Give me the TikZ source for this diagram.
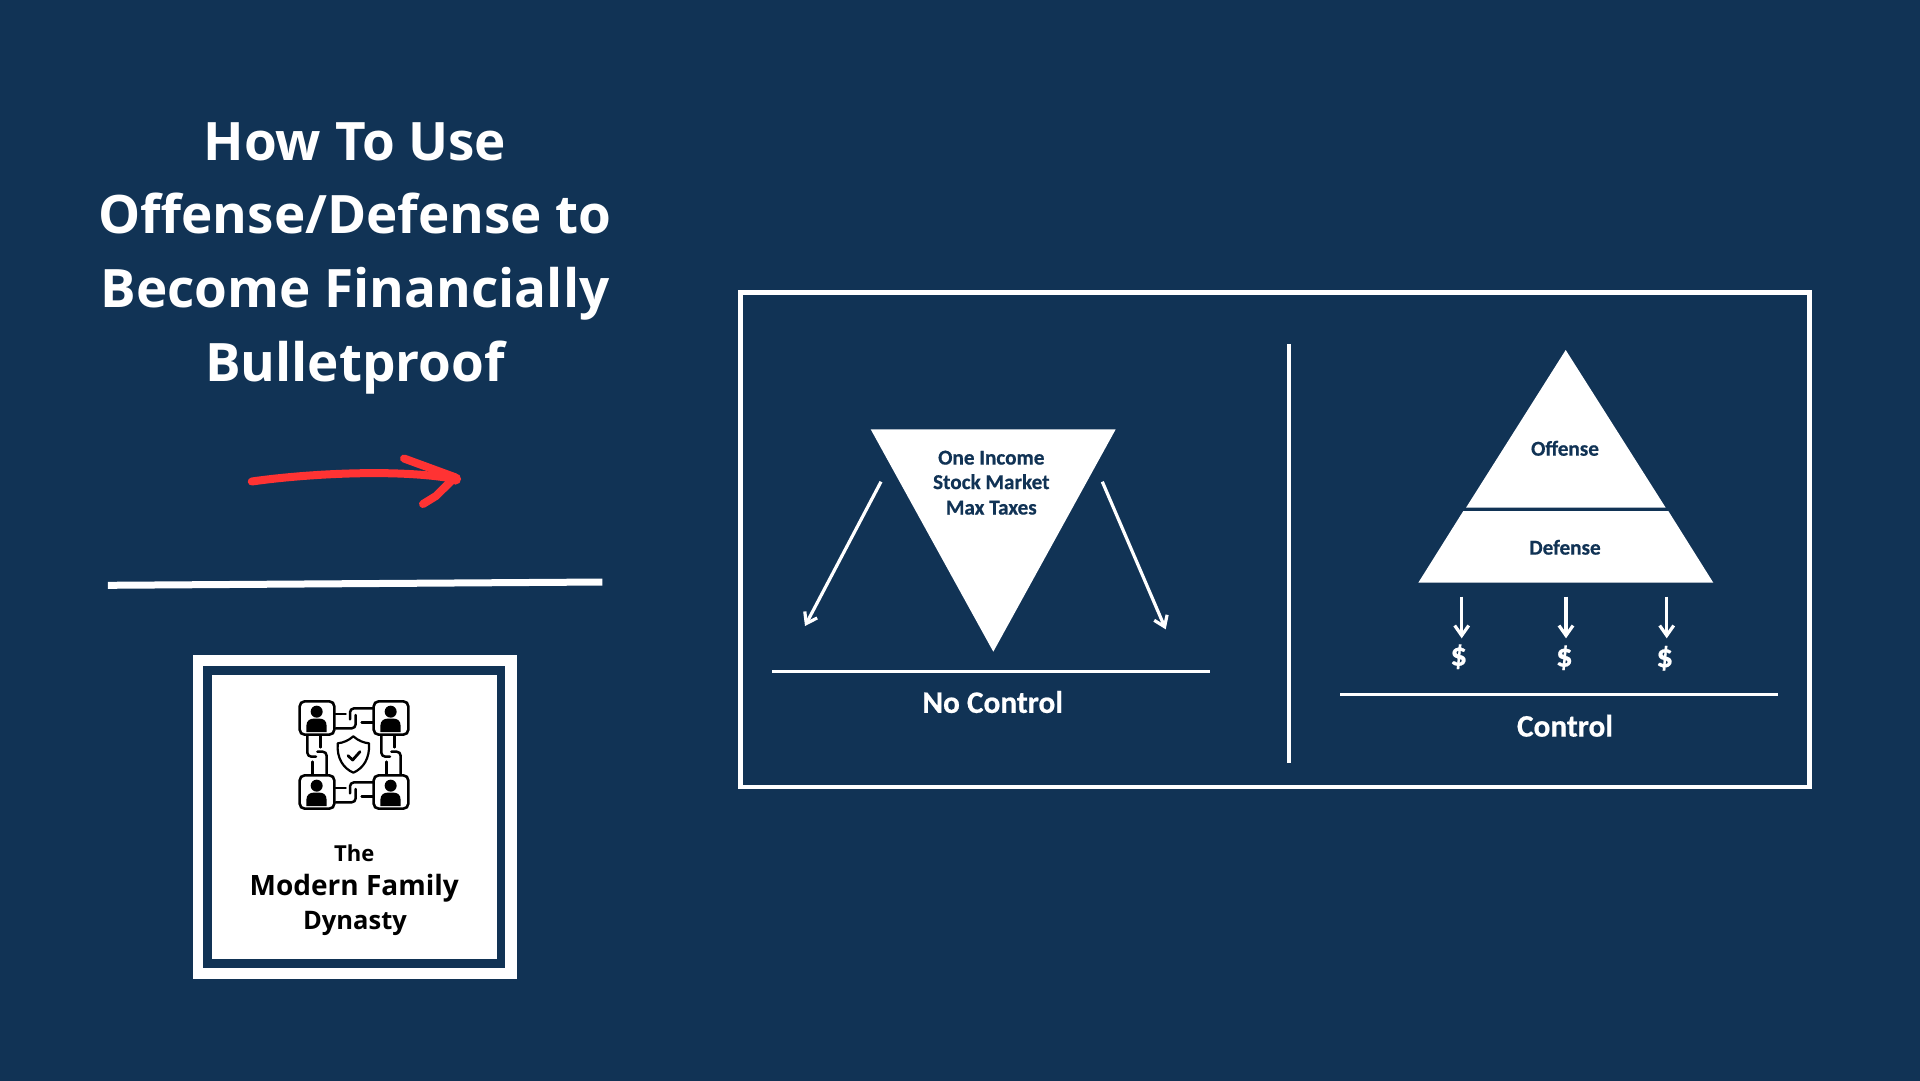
\documentclass[tikz,border=0pt]{standalone}
\usepackage{fontspec}
\setmainfont{Open Sans}
\newfontfamily\carlito[BoldFont={Carlito Bold},BoldFeatures={FakeBold=0.5}]{Carlito}
\usetikzlibrary{arrows.meta}
\definecolor{navy}{HTML}{113355}
\definecolor{redpen}{HTML}{FF3333}
\tikzset{
  titletext/.style={text=white,font=\fontsize{53}{53}\selectfont\bfseries,anchor=base,inner sep=0pt},
  logotext/.style={text=black,anchor=base,inner sep=0pt},
  tritext/.style={text=navy,anchor=center,inner sep=0pt,font=\carlito\bfseries\fontsize{21.2}{21.2}\selectfont},
  captext/.style={text=white,anchor=center,inner sep=0pt,font=\carlito\bfseries\fontsize{31.3}{31.3}\selectfont},
  dollar/.style={text=white,anchor=center,inner sep=0pt,font=\carlito\bfseries\fontsize{33}{33}\selectfont},
  whitearrow/.style={draw=white,line width=3.2pt,-{Straight Barb[length=10pt,width=14pt,line width=3.2pt]}},
  rule/.style={draw=white,line width=3.4pt},
  icon/.style={draw=black,line width=2.5pt,line cap=round,line join=round,rounded corners=4pt},
  solidtri/.style={fill=white,draw=none}
}
\begin{document}
\begin{tikzpicture}[x=1pt,y=-1pt]
\useasboundingbox (0,0) rectangle (1920,1080);
\fill[navy] (-5,-5) rectangle (1925,1085);
% title
\node[titletext] (t1) at (355,160) {How To Use};
\node[titletext] (t2) at (355,233.8) {Offense/Defense to};
\node[titletext] (t3) at (355,307.6) {Become Financially};
\node[titletext] (t4) at (355,381.7) {Bulletproof};
% red arrow
\draw[redpen,line width=8pt,line cap=round,line join=round]
  (251.8,481.5) .. controls (300,474.5) and (395,468) .. (455,479);
\fill[redpen] (455.5,479) circle (5.6pt);
\draw[redpen,line width=8pt,line cap=round,line join=round] (404,458.5) -- (455,477.2) -- (436,496) -- (423,504);
% white rule
\fill[white] (107.9,588.8) -- (602.4,585.5) -- (602.4,578.5) -- (107.9,581.8) -- cycle;
% logo
\fill[white] (193,655) rectangle (517,979);
\fill[navy] (203,666) rectangle (505,968);
\fill[white] (212,675) rectangle (497,959);
\begin{scope}[shift={(180,650)},scale=1/3]
  \foreach \dx/\dy in {0/0,222/0,0/222,222/222}{
    \begin{scope}[shift={(\dx,\dy)}]
      \draw[draw=black,line width=2.6pt,rounded corners=5pt] (359,154) rectangle (463,254);
      \fill[black] (410,185) circle (18);
      \fill[black] (379,246) -- (379,228) .. controls (379,212) and (390,206) .. (400,206) -- (420,206) .. controls (430,206) and (440,212) .. (440,228) -- (440,246) -- cycle;
    \end{scope}
  }
  \foreach \dy in {0,222}{
    \begin{scope}[shift={(0,\dy)}]
      \draw[icon] (467,192) -- (497,192);
      \draw[icon] (578,175) -- (510,175) -- (510,208);
      \draw[icon] (578,218) -- (545,218);
      \draw[icon] (467,235) -- (527,235) -- (527,195);
    \end{scope}
  }
  \foreach \dx in {0,222}{
    \begin{scope}[shift={(\dx,0)}]
      \draw[icon] (382,258) -- (382,320) -- (408,320);
      \draw[icon] (422,258) -- (422,292);
      \draw[icon] (440,372) -- (440,305) -- (412,305);
      \draw[icon] (398,372) -- (398,335);
    \end{scope}
  }
  % shield
  \draw[draw=black,line width=2.2pt,line join=round]
    (520,259) .. controls (505,272) and (490,278) .. (473,280)
    .. controls (470,325) and (490,355) .. (520,368)
    .. controls (550,355) and (570,325) .. (567,280)
    .. controls (550,278) and (535,272) .. (520,259) -- cycle;
  \draw[draw=black,line width=2.8pt,line cap=round,line join=round] (504,317) -- (518,330) -- (540,305);
\end{scope}
\node[logotext,font=\bfseries\fontsize{22}{22}\selectfont] (l1) at (354.3,861.7) {The};
\node[logotext,font=\bfseries\fontsize{28}{28}\selectfont] (l2) at (354.3,895) {Modern Family};
\node[logotext,font=\bfseries\fontsize{25.5}{25.5}\selectfont] (l3) at (355,929.3) {Dynasty};
% frame
\draw[draw=white,line width=4.6pt] (740.3,292.3) rectangle (1809.5,787);
\coordinate (dt) at (1289,344); \coordinate (db) at (1289,762.7);
\draw[rule] (dt) -- (db);
% inverted triangle
\fill[solidtri] (870.7,429.3) -- (1115.7,429.3) -- (993.3,651.7) -- cycle;
\node[tritext] (o1) at (991.3,457.7) {One Income};
\node[tritext] (o2) at (991.3,481.7) {Stock Market};
\node[tritext] (o3) at (991.3,507.7) {Max Taxes};
\coordinate (la) at (881,481.7); \coordinate (lb) at (805,626);
\coordinate (ra) at (1102.3,481.7); \coordinate (rb) at (1165.7,629.3);
\draw[whitearrow] (la) -- (lb);
\draw[whitearrow] (ra) -- (rb);
\coordinate (nl) at (772.3,671.7); \coordinate (nr) at (1210,671.7);
\draw[rule] (nl) -- (nr);
\node[captext] (nc) at (992.7,702) {No Control};
% pyramid
\fill[solidtri] (1565.7,350) -- (1665.7,507.7) -- (1466,507.7) -- cycle;
\fill[solidtri] (1463.3,511) -- (1668.3,511) -- (1713.3,582.7) -- (1418.3,582.7) -- cycle;
\node[tritext] (off) at (1565,448.3) {Offense};
\node[tritext] (def) at (1565,547.3) {Defense};
\coordinate (a1) at (1461.7,596.7); \coordinate (a2) at (1566,596.7); \coordinate (a3) at (1666.7,596.7);
\coordinate (b1) at (1461.7,638.3); \coordinate (b2) at (1566,638.3); \coordinate (b3) at (1666.7,638.3);
\node[dollar] (d1) at (1458.7,656.7) {\$};
\node[dollar] (d2) at (1564.3,657.7) {\$};
\node[dollar] (d3) at (1664.7,658.3) {\$};
\draw[whitearrow] (a1) -- (b1);
\draw[whitearrow] (a2) -- (b2);
\draw[whitearrow] (a3) -- (b3);
\coordinate (cl) at (1340,694.7); \coordinate (cr) at (1777.7,694.7);
\draw[rule] (cl) -- (cr);
\node[captext] (cc) at (1565,725.7) {Control};
\end{tikzpicture}
\end{document}
